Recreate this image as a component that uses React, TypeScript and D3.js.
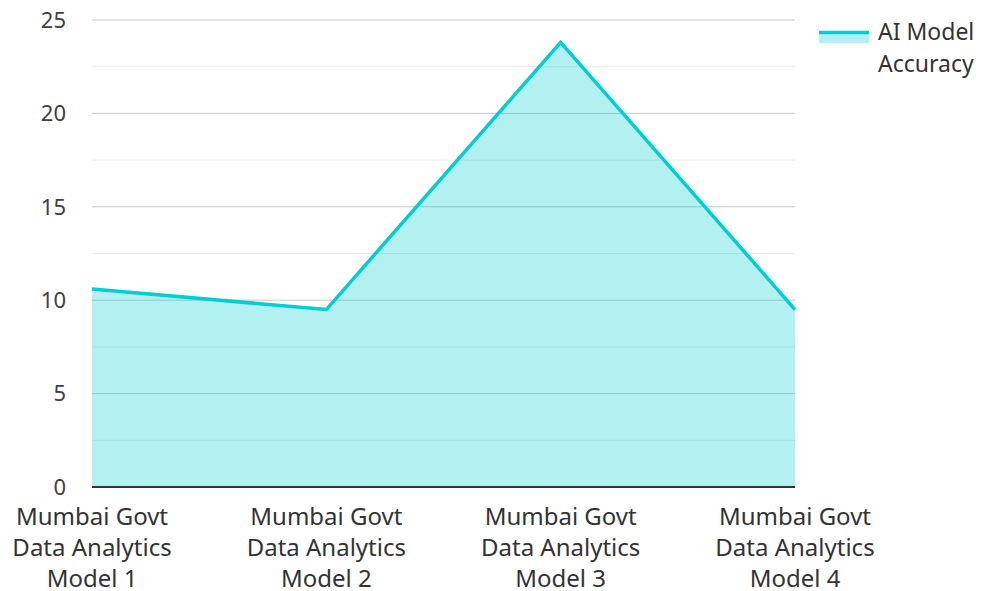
import { useRef, useEffect } from 'react';
import * as d3 from 'd3';

const categories = [
  'Mumbai Govt Data Analytics Model 1',
  'Mumbai Govt Data Analytics Model 2',
  'Mumbai Govt Data Analytics Model 3',
  'Mumbai Govt Data Analytics Model 4',
];
const labelLines = [
  ['Mumbai Govt', 'Data Analytics', 'Model 1'],
  ['Mumbai Govt', 'Data Analytics', 'Model 2'],
  ['Mumbai Govt', 'Data Analytics', 'Model 3'],
  ['Mumbai Govt', 'Data Analytics', 'Model 4'],
];
const accuracy = [10.6, 9.5, 23.8, 9.5];
const seriesName = ['AI Model', 'Accuracy'];
const majorTicks = [0, 5, 10, 15, 20, 25];
const minorTicks = [2.5, 7.5, 12.5, 17.5, 22.5];

const W = 984;
const H = 591;
const FONT = '"Noto Sans", "Open Sans", sans-serif';
const TEAL = '#00ced1';

export default function App() {
  const svgRef = useRef<SVGSVGElement>(null);

  useEffect(() => {
    if (!svgRef.current) return;
    const svg = d3.select(svgRef.current);
    svg.selectAll('*').remove();

    const margin = { top: 20, right: 189, bottom: 104, left: 92 };
    const width = W - margin.left - margin.right;
    const height = H - margin.top - margin.bottom;

    const g = svg.append('g').attr('transform', `translate(${margin.left},${margin.top})`);

    const x = d3.scalePoint<string>().domain(categories).range([0, width]);
    const y = d3.scaleLinear().domain([0, 25]).range([height, 0]);

    // minor grid
    g.selectAll('.minor')
      .data(minorTicks)
      .enter()
      .append('line')
      .attr('x1', 0)
      .attr('x2', width)
      .attr('y1', (d) => y(d))
      .attr('y2', (d) => y(d))
      .attr('stroke', '#ebebeb')
      .attr('stroke-width', 1);

    // major grid
    g.selectAll('.major')
      .data(majorTicks.filter((d) => d > 0))
      .enter()
      .append('line')
      .attr('x1', 0)
      .attr('x2', width)
      .attr('y1', (d) => y(d))
      .attr('y2', (d) => y(d))
      .attr('stroke', '#c8c8c8')
      .attr('stroke-width', 1);

    const data = categories.map((c, i) => ({ c, v: accuracy[i] }));

    const area = d3
      .area<{ c: string; v: number }>()
      .x((d) => x(d.c)!)
      .y0(y(0))
      .y1((d) => y(d.v));
    g.append('path').datum(data).attr('d', area).attr('fill', TEAL).attr('fill-opacity', 0.3);

    const line = d3
      .line<{ c: string; v: number }>()
      .x((d) => x(d.c)!)
      .y((d) => y(d.v));
    g.append('path')
      .datum(data)
      .attr('d', line)
      .attr('fill', 'none')
      .attr('stroke', TEAL)
      .attr('stroke-width', 3.5)
      .attr('stroke-linejoin', 'miter');

    // baseline
    g.append('line')
      .attr('x1', 0)
      .attr('x2', width)
      .attr('y1', y(0))
      .attr('y2', y(0))
      .attr('stroke', '#333333')
      .attr('stroke-width', 2);

    // y labels
    g.selectAll('.ylab')
      .data(majorTicks)
      .enter()
      .append('text')
      .attr('x', -26)
      .attr('y', (d) => y(d))
      .attr('dy', '0.35em')
      .attr('text-anchor', 'end')
      .attr('font-family', FONT)
      .attr('font-size', 22)
      .attr('fill', '#404040')
      .text((d) => d);

    // x labels
    const xl = g
      .selectAll('.xlab')
      .data(categories)
      .enter()
      .append('text')
      .attr('text-anchor', 'middle')
      .attr('font-family', FONT)
      .attr('font-size', 24)
      .attr('fill', '#333333');
    xl.each(function (d, i) {
      const t = d3.select(this);
      labelLines[i].forEach((ln, k) => {
        t.append('tspan')
          .attr('x', x(d)!)
          .attr('y', height + 38 + k * 31)
          .text(ln);
      });
    });

    // legend
    const lg = svg.append('g').attr('transform', 'translate(819,31)');
    lg.append('rect').attr('x', 0).attr('y', 0).attr('width', 50).attr('height', 12).attr('fill', TEAL).attr('fill-opacity', 0.3);
    lg.append('line').attr('x1', 0).attr('x2', 50).attr('y1', 1.5).attr('y2', 1.5).attr('stroke', TEAL).attr('stroke-width', 3.5);
    const lt = lg
      .append('text')
      .attr('font-family', FONT)
      .attr('font-size', 23)
      .attr('fill', '#333333');
    seriesName.forEach((s, k) => {
      lt.append('tspan').attr('x', 59).attr('y', 9 + k * 32).text(s);
    });
  }, []);

  return (
    <svg
      ref={svgRef}
      width={W}
      height={H}
      style={{ position: 'absolute', left: 0, top: 0, background: '#fff' }}
    />
  );
}
